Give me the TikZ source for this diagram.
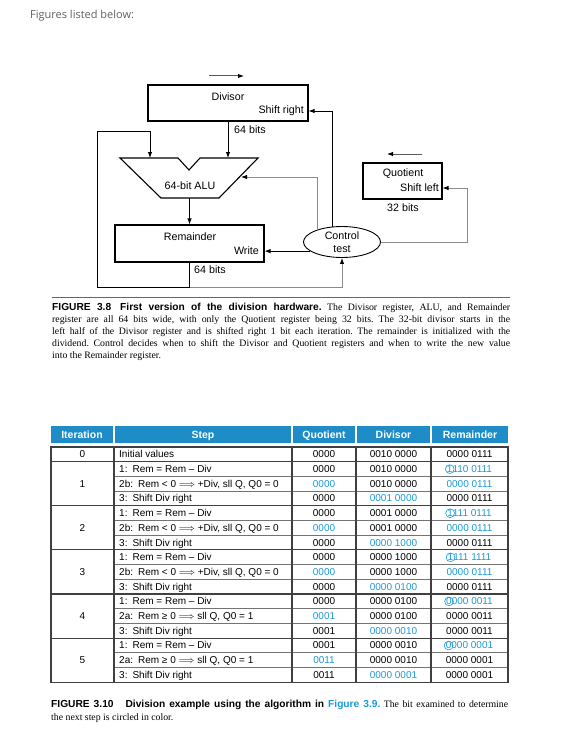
\documentclass[tikz,border=0pt]{standalone}
\usepackage{fontspec}
\setmainfont{Liberation Serif}
\newfontfamily\arialfont{Liberation Sans}
\newfontfamily\osfont{Open Sans}
\usepackage{amsmath}
\usetikzlibrary{positioning,arrows.meta,shapes.geometric,calc}
\definecolor{hdblue}{HTML}{1E8CC6}
\definecolor{txtblue}{HTML}{1C9AD6}
\definecolor{wire}{HTML}{8C8C8C}
\newcommand\capbf{\arialfont\bfseries\fontsize{10.2}{12}\selectfont}
\newcommand\cbit[1]{\tikz[baseline=(cbx.base)]{\node[inner sep=0pt] (cbx) {#1};
  \draw[txtblue, line width=0.6pt, overlay] (cbx.center) circle (4.4pt);}}
\tikzset{
  reg/.style   = {draw, line width=1.1pt, inner sep=0pt},
  txt/.style   = {font=\arialfont\fontsize{10.7}{12}\selectfont, inner sep=0pt},
  ctl/.style   = {draw, ellipse, line width=0.9pt, inner sep=0pt, align=center,
                  minimum width=77pt, minimum height=31pt,
                  font=\arialfont\fontsize{10.7}{12.5}\selectfont},
  ar/.style    = {-{Latex[length=6pt,width=4.5pt]}, line width=0.9pt},
  gar/.style   = {draw=wire, line width=0.9pt,
                  -{Latex[length=6pt,width=4.5pt,color=black]}},
  sar/.style   = {draw=black!65, line width=1pt,
                  -{Latex[length=6pt,width=4.5pt,color=black]}},
  captxt/.style= {anchor=base west, inner sep=0pt,
                  font=\fontsize{9.8}{11.5}\selectfont\frenchspacing},
  hd/.style    = {fill=hdblue, text=white, inner sep=0pt, minimum height=17pt,
                  text height=7.5pt, text depth=0pt,
                  font=\arialfont\bfseries\fontsize{10.5}{12}\selectfont},
  cell/.style  = {inner sep=0pt, text height=7pt, text depth=0pt,
                  font=\arialfont\fontsize{10}{11}\selectfont},
  stp/.style   = {cell, anchor=west},
  bl/.style    = {cell, text=txtblue},
  thk/.style   = {line width=1.1pt, draw=black!75},
  thn/.style   = {line width=0.7pt, draw=black!55},
}

\begin{document}
\begin{tikzpicture}[x=1pt, y=-1pt]
\fill[white] (0,0) rectangle (587,749);

\node[anchor=base west, inner sep=0pt, text=black!62,
      font=\osfont\fontsize{11}{13}\selectfont] (intro) at (30,19) {Figures listed below:};

% division hardware
\node[reg, minimum width=160pt, minimum height=36pt] (divisor) at (228,103) {};
\node[txt] (divT) at (228,97) {Divisor};
\node[txt, anchor=east] (divS) at (304,111) {Shift right};
\node[txt, anchor=west] (divW) at (234,130) {64 bits};

\draw[line width=1.1pt] (120,158) -- (178,158) -- (189,170) -- (200,158) -- (258,158)
     -- (219,198) -- (161,198) -- cycle;
\node[txt] (alu) at (190,186) {64-bit ALU};
\coordinate (aluA) at (150,158);
\coordinate (aluB) at (228,158);
\coordinate (aluR) at (241,177);
\coordinate (aluO) at (189.5,198);

\node[reg, minimum width=149pt, minimum height=37pt] (remainder) at (189.5,243.5) {};
\node[txt] (remT) at (190,237) {Remainder};
\node[txt, anchor=east] (remS) at (259,251) {Write};
\node[txt, anchor=west] (remW) at (194,270) {64 bits};

\node[ctl] (control) at (342,242) {Control\\test};

\node[reg, minimum width=79pt, minimum height=36pt] (quotient) at (402.5,181) {};
\node[txt] (quoT) at (403,174) {Quotient};
\node[txt, anchor=east] (quoS) at (439,188) {Shift left};
\node[txt] (quoW) at (403,208) {32 bits};

\coordinate (dshA) at (209,76);
\coordinate (dshB) at (244,76);
\coordinate (qshA) at (422,154);
\coordinate (qshB) at (387,154);
\coordinate (junc) at (189.5,287);

\draw[sar] (dshA) -- (dshB);
\draw[sar] (qshA) -- (qshB);
\draw[ar] (divisor.south) -- (aluB);
\draw[ar] (aluO) -- (remainder.north);
\draw[ar] (remainder.south) -- (junc) -| (97,131) -| (aluA);
\draw[gar] (junc) -| (control.south);
\draw[ar] (control.196) -- (control.196 -| remainder.east);
\draw[ar] (control.121) |- ($(divisor.east)+(0,8)$);
\draw[gar] (control.153) |- (aluR);
\draw[gar] (control.east) -- ++(86,0) |- ($(quotient.east)+(0,7)$);

% caption 3.8
\draw[line width=1pt, draw=black!60] (52,297) -- (510,297);
\node[captxt] (c1) at (52,310.5) {\makebox[458pt][s]{{\capbf FIGURE 3.8\hspace{9pt}First version of the division hardware.} The Divisor register, ALU, and Remainder}};
\node[captxt] (c2) at (52,322.5) {\makebox[458pt][s]{register are all 64 bits wide, with only the Quotient register being 32 bits. The 32-bit divisor starts in the}};
\node[captxt] (c3) at (52,334.5) {\makebox[458pt][s]{left half of the Divisor register and is shifted right 1 bit each iteration. The remainder is initialized with the}};
\node[captxt] (c4) at (52,346.5) {\makebox[458pt][s]{dividend. Control decides when to shift the Divisor and Quotient registers and when to write the new value}};
\node[captxt] (c5) at (52,358.5) {into the Remainder register.};

% table header
\node[hd, minimum width=62pt] (hIt) at (82,434.5) {Iteration};
\node[hd, minimum width=176pt] (hSt) at (203,434.5) {Step};
\node[hd, minimum width=62pt] (hQu) at (324,434.5) {Quotient};
\node[hd, minimum width=73pt] (hDi) at (393.5,434.5) {Divisor};
\node[hd, minimum width=76pt] (hRe) at (470,434.5) {Remainder};

% table rules
\draw[thn] (114,476.4) -- (508,476.4) (114,491.1) -- (508,491.1) (114,520.5) -- (508,520.5)
      (114,535.2) -- (508,535.2) (114,564.6) -- (508,564.6) (114,579.3) -- (508,579.3)
      (114,608.7) -- (508,608.7) (114,623.4) -- (508,623.4) (114,652.8) -- (508,652.8)
      (114,667.5) -- (508,667.5);
\draw[thk] (51,447) rectangle (508,682.2);
\draw[thk] (51,461.7) -- (508,461.7) (51,505.8) -- (508,505.8) (51,549.9) -- (508,549.9)
      (51,594) -- (508,594) (51,638.1) -- (508,638.1);
\draw[thk] (114,447) -- (114,682.2) (292,447) -- (292,682.2) (356,447) -- (356,682.2)
      (431,447) -- (431,682.2);

% iterations
\node[cell] (i0) at (82.5,454.35) {0};
\node[cell] (i1) at (82.5,483.75) {1};
\node[cell] (i2) at (82.5,527.85) {2};
\node[cell] (i3) at (82.5,571.95) {3};
\node[cell] (i4) at (82.5,616.05) {4};
\node[cell] (i5) at (82.5,660.15) {5};

% rows
\node[stp] (s1) at (119,454.35) {Initial values};
\node[cell] (q1) at (324,454.35) {0000};
\node[cell] (d1) at (393.5,454.35) {0010 0000};
\node[cell] (r1) at (469.5,454.35) {0000 0111};

\node[stp] (s2) at (119,469.05) {1:\enspace Rem = Rem – Div};
\node[cell] (q2) at (324,469.05) {0000};
\node[cell] (d2) at (393.5,469.05) {0010 0000};
\node[bl] (r2) at (469.5,469.05) {\cbit{1}110 0111};

\node[stp] (s3) at (119,483.75) {2b:\enspace Rem < 0 $\Longrightarrow$ +Div, sll Q, Q0 = 0};
\node[bl] (q3) at (324,483.75) {0000};
\node[cell] (d3) at (393.5,483.75) {0010 0000};
\node[bl] (r3) at (469.5,483.75) {0000 0111};

\node[stp] (s4) at (119,498.45) {3:\enspace Shift Div right};
\node[cell] (q4) at (324,498.45) {0000};
\node[bl] (d4) at (393.5,498.45) {0001 0000};
\node[cell] (r4) at (469.5,498.45) {0000 0111};

\node[stp] (s5) at (119,513.15) {1:\enspace Rem = Rem – Div};
\node[cell] (q5) at (324,513.15) {0000};
\node[cell] (d5) at (393.5,513.15) {0001 0000};
\node[bl] (r5) at (469.5,513.15) {\cbit{1}111 0111};

\node[stp] (s6) at (119,527.85) {2b:\enspace Rem < 0 $\Longrightarrow$ +Div, sll Q, Q0 = 0};
\node[bl] (q6) at (324,527.85) {0000};
\node[cell] (d6) at (393.5,527.85) {0001 0000};
\node[bl] (r6) at (469.5,527.85) {0000 0111};

\node[stp] (s7) at (119,542.55) {3:\enspace Shift Div right};
\node[cell] (q7) at (324,542.55) {0000};
\node[bl] (d7) at (393.5,542.55) {0000 1000};
\node[cell] (r7) at (469.5,542.55) {0000 0111};

\node[stp] (s8) at (119,557.25) {1:\enspace Rem = Rem – Div};
\node[cell] (q8) at (324,557.25) {0000};
\node[cell] (d8) at (393.5,557.25) {0000 1000};
\node[bl] (r8) at (469.5,557.25) {\cbit{1}111 1111};

\node[stp] (s9) at (119,571.95) {2b:\enspace Rem < 0 $\Longrightarrow$ +Div, sll Q, Q0 = 0};
\node[bl] (q9) at (324,571.95) {0000};
\node[cell] (d9) at (393.5,571.95) {0000 1000};
\node[bl] (r9) at (469.5,571.95) {0000 0111};

\node[stp] (s10) at (119,586.65) {3:\enspace Shift Div right};
\node[cell] (q10) at (324,586.65) {0000};
\node[bl] (d10) at (393.5,586.65) {0000 0100};
\node[cell] (r10) at (469.5,586.65) {0000 0111};

\node[stp] (s11) at (119,601.35) {1:\enspace Rem = Rem – Div};
\node[cell] (q11) at (324,601.35) {0000};
\node[cell] (d11) at (393.5,601.35) {0000 0100};
\node[bl] (r11) at (469.5,601.35) {\cbit{0}000 0011};

\node[stp] (s12) at (119,616.05) {2a:\enspace Rem ≥ 0 $\Longrightarrow$ sll Q, Q0 = 1};
\node[bl] (q12) at (324,616.05) {0001};
\node[cell] (d12) at (393.5,616.05) {0000 0100};
\node[cell] (r12) at (469.5,616.05) {0000 0011};

\node[stp] (s13) at (119,630.75) {3:\enspace Shift Div right};
\node[cell] (q13) at (324,630.75) {0001};
\node[bl] (d13) at (393.5,630.75) {0000 0010};
\node[cell] (r13) at (469.5,630.75) {0000 0011};

\node[stp] (s14) at (119,645.45) {1:\enspace Rem = Rem – Div};
\node[cell] (q14) at (324,645.45) {0001};
\node[cell] (d14) at (393.5,645.45) {0000 0010};
\node[bl] (r14) at (469.5,645.45) {\cbit{0}000 0001};

\node[stp] (s15) at (119,660.15) {2a:\enspace Rem ≥ 0 $\Longrightarrow$ sll Q, Q0 = 1};
\node[bl] (q15) at (324,660.15) {0011};
\node[cell] (d15) at (393.5,660.15) {0000 0010};
\node[cell] (r15) at (469.5,660.15) {0000 0001};

\node[stp] (s16) at (119,674.85) {3:\enspace Shift Div right};
\node[cell] (q16) at (324,674.85) {0011};
\node[bl] (d16) at (393.5,674.85) {0000 0001};
\node[cell] (r16) at (469.5,674.85) {0000 0001};

% caption 3.10
\node[captxt] (e1) at (51,707.5) {\makebox[457pt][s]{{\capbf FIGURE 3.10\hspace{12pt}Division example using the algorithm in \textcolor{txtblue}{Figure 3.9.}} The bit examined to determine}};
\node[captxt] (e2) at (51,720.5) {the next step is circled in color.};
\end{tikzpicture}
\end{document}
